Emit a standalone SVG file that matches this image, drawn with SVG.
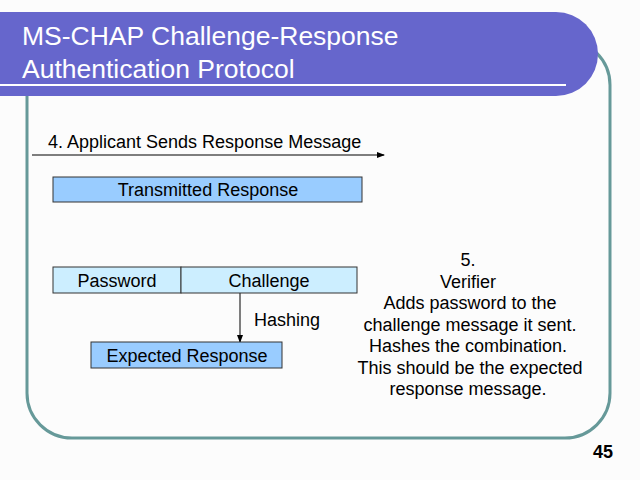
<svg xmlns="http://www.w3.org/2000/svg" width="640" height="480" viewBox="0 0 640 480">
<style>
text{font-family:"Liberation Sans",Arial,sans-serif;fill:#000}
.b{stroke:#333;stroke-width:1}
.c{stroke:#000;stroke-width:1;fill:none}
.t{font-size:18px;text-anchor:middle}
</style>
<defs><marker id="ah" markerWidth="8" markerHeight="8" refX="7" refY="4" orient="auto" markerUnits="userSpaceOnUse"><path d="M0,1 L8,4 L0,7z" fill="#000"/></marker></defs>
<rect width="640" height="480" fill="#fcfcfc"/>
<g id="frame"><rect x="27" y="40" width="583" height="398" rx="45" fill="none" stroke="#669999" stroke-width="3"/></g>
<g id="title">
<path d="M0,12 H556 A42,42 0 0 1 556,96 H0 Z" fill="#6666cc"/>
<line x1="0" y1="85" x2="566" y2="85" stroke="#fff" stroke-width="2"/>
<text x="22" y="45" font-size="26.5" style="fill:#fff">MS-CHAP Challenge-Response</text>
<text x="22" y="78" font-size="26.5" style="fill:#fff">Authentication Protocol</text>
</g>
<g id="connectors">
<line class="c" x1="32" y1="155" x2="384" y2="155" marker-end="url(#ah)"/>
<line class="c" x1="240" y1="293" x2="240" y2="342" marker-end="url(#ah)"/>
</g>
<text x="48" y="148" font-size="18">4. Applicant Sends Response Message</text>
<g id="transmitted"><rect class="b" x="53" y="177" width="309" height="25" fill="#99ccff"/><text class="t" x="208" y="196">Transmitted Response</text></g>
<g id="password"><rect class="b" x="53" y="267" width="128" height="26" fill="#cceeff"/><text class="t" x="117" y="287">Password</text></g>
<g id="challenge"><rect class="b" x="181" y="267" width="176" height="26" fill="#cceeff"/><text class="t" x="269" y="287">Challenge</text></g>
<text x="254" y="326" font-size="18">Hashing</text>
<g id="expected"><rect class="b" x="91" y="342" width="191" height="26" fill="#99ccff"/><text class="t" x="187" y="362">Expected Response</text></g>
<g id="verifier">
<text class="t" x="468" y="266">5.</text>
<text class="t" x="468" y="288">Verifier</text>
<text class="t" x="470" y="309">Adds password to the</text>
<text class="t" x="470" y="331">challenge message it sent.</text>
<text class="t" x="468" y="352">Hashes the combination.</text>
<text class="t" x="470" y="374">This should be the expected</text>
<text class="t" x="468" y="395">response message.</text>
</g>
<text x="613" y="458" font-size="18" font-weight="bold" text-anchor="end">45</text>
</svg>
